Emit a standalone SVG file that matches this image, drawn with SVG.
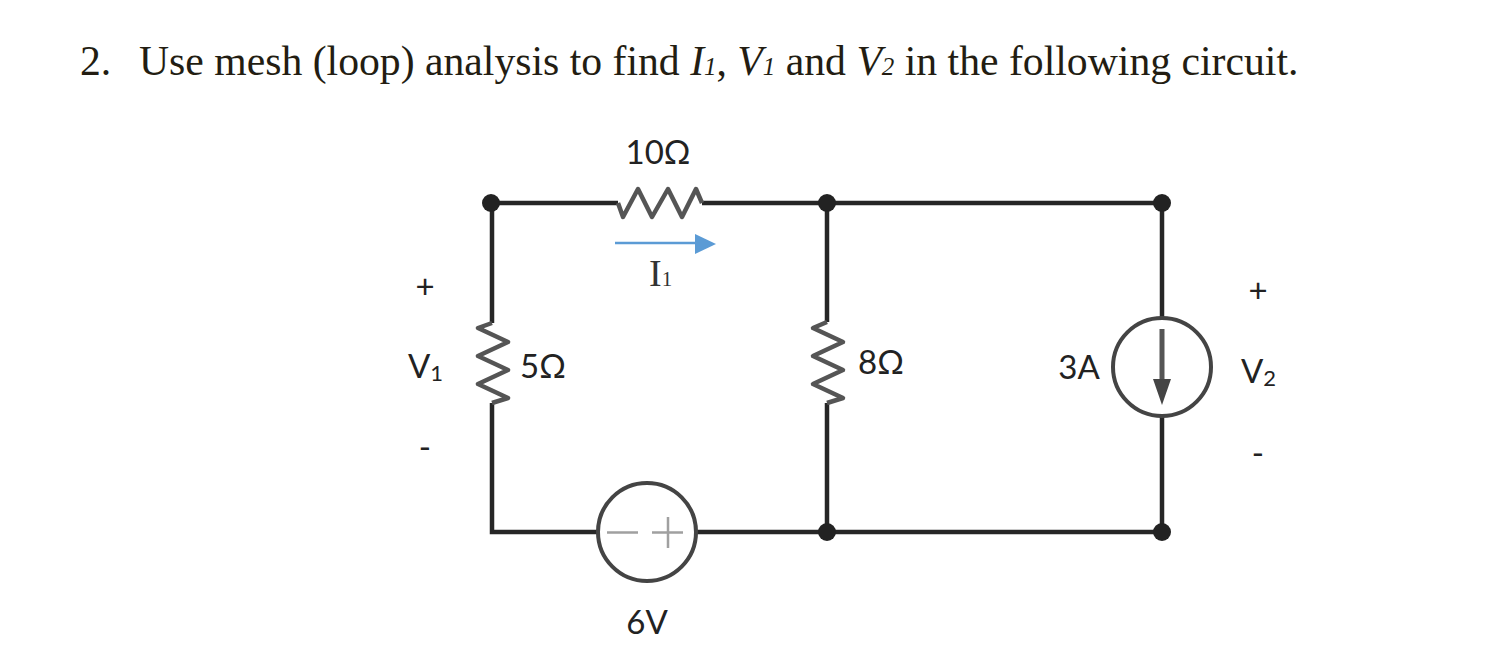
<svg xmlns="http://www.w3.org/2000/svg" width="1506" height="667" viewBox="0 0 1506 667">
<defs><style>
.t{font-family:"Liberation Serif",serif;font-size:41.700px;fill:#231d12}
.i{font-style:italic}
.s{font-size:25px}
.l{font-family:Lato,"Open Sans",sans-serif;font-size:33px;fill:#222}
.sub{font-size:22px}
.w{fill:none;stroke:#262626;stroke-width:4.500}
.r{fill:none;stroke:#555;stroke-width:4.500;stroke-linejoin:round}
.c{fill:#fff;stroke:#444;stroke-width:4}
.d{fill:#222}
.g{fill:none;stroke:#a0a0a0;stroke-width:2.500}
</style></defs>
<rect width="1506" height="667" fill="#fff"/>
<g id="title">
<text class="t" x="80" y="75">2.</text>
<text class="t" x="139" y="75">Use mesh (loop) analysis to find <tspan class="i">I</tspan><tspan class="i s">1</tspan>, <tspan class="i">V</tspan><tspan class="i s">1</tspan> and <tspan class="i">V</tspan><tspan class="i s">2</tspan> in the following circuit.</text>
</g>
<g id="connectors">
<path class="w" d="M491 203H618M702 203H1162V318M1162 417V532H697M597 532H492V403M492 323V203"/>
<path class="w" d="M827 203V322M827 403V532"/>
</g>
<g id="node-a"><circle class="d" cx="491" cy="203" r="9"/></g>
<g id="node-b"><circle class="d" cx="827" cy="203" r="9"/></g>
<g id="node-c"><circle class="d" cx="1162" cy="203" r="9"/></g>
<g id="node-d"><circle class="d" cx="827" cy="532" r="9"/></g>
<g id="node-e"><circle class="d" cx="1162" cy="532" r="9"/></g>
<g id="r10">
<path class="r" d="M618 203L623 217L638 189L652 217L668 189L682 217L696 189L702 203"/>
<text class="l" x="658" y="164" text-anchor="middle">10Ω</text>
</g>
<g id="r5">
<path class="r" d="M492 323L478 328L508 342L478 356L508 370L478 384L508 398L492 403"/>
<text class="l" x="543" y="378" text-anchor="middle">5Ω</text>
</g>
<g id="r8">
<path class="r" d="M827 322L813 328L843 342L813 356L843 370L813 384L843 398L827 403"/>
<text class="l" x="881" y="374" text-anchor="middle">8Ω</text>
</g>
<g id="v6">
<circle class="c" cx="647" cy="532" r="49"/>
<path class="g" d="M607 532.500H638M652 532.500H683M668 517V548"/>
<text class="l" x="647" y="634" text-anchor="middle">6V</text>
</g>
<g id="i3">
<circle class="c" cx="1162" cy="367" r="49"/>
<path d="M1162 329V382" fill="none" stroke="#555" stroke-width="5"/>
<path d="M1153 379H1171L1162 405Z" fill="#444"/>
<text class="l" x="1079" y="379" text-anchor="middle">3A</text>
</g>
<g id="i1">
<path d="M615 243H696" fill="none" stroke="#5b9bd5" stroke-width="2.500"/>
<path d="M695 234V254L716 244Z" fill="#5b9bd5"/>
<text font-family="Liberation Serif, serif" font-size="38" fill="#333" x="649" y="286">I<tspan font-size="21">1</tspan></text>
</g>
<g id="v1">
<text class="l" x="425" y="298" text-anchor="middle">+</text>
<text class="l" x="408" y="378">V<tspan class="sub" dy="3">1</tspan></text>
<text class="l" x="425" y="459" text-anchor="middle">-</text>
</g>
<g id="v2">
<text class="l" x="1258" y="302" text-anchor="middle">+</text>
<text class="l" x="1241" y="383">V<tspan class="sub" dy="3">2</tspan></text>
<text class="l" x="1258" y="465" text-anchor="middle">-</text>
</g>
</svg>
